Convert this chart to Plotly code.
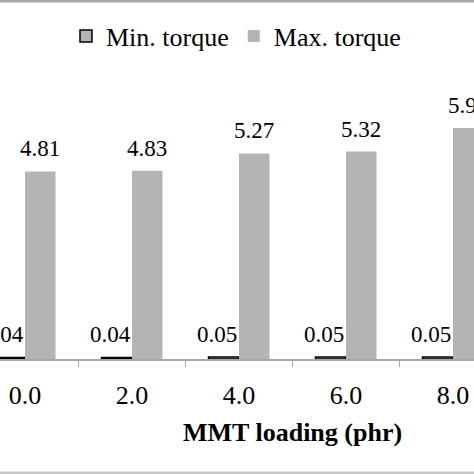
import plotly.graph_objects as go

categories = ["0.0", "2.0", "4.0", "6.0", "8.0"]
min_torque = [0.04, 0.04, 0.05, 0.05, 0.05]
max_torque = [4.81, 4.83, 5.27, 5.32, 5.92]
min_labels = ["0.04", "0.04", "0.05", "0.05", "0.05"]
max_labels = ["4.81", "4.83", "5.27", "5.32", "5.92"]

FONT = "Liberation Serif, DejaVu Serif, serif"
GRAY = "#b4b4b4"
AXIS_GRAY = "#a6a6a6"

fig = go.Figure()
fig.add_trace(go.Bar(
    x=categories, y=min_torque, name="Min. torque",
    marker=dict(color=GRAY, line=dict(color="black", width=1.5)),
))
fig.add_trace(go.Bar(
    x=categories, y=max_torque, name="Max. torque",
    marker=dict(color=GRAY, line=dict(width=0)),
))

annotations = []
for i, (v, t) in enumerate(zip(min_torque, min_labels)):
    annotations.append(dict(x=i, y=v, text=t, showarrow=False, xref="x", yref="y",
                            yanchor="bottom", xshift=-22, yshift=8,
                            font=dict(family=FONT, size=23, color="black")))
for i, (v, t) in enumerate(zip(max_torque, max_labels)):
    annotations.append(dict(x=i, y=v, text=t, showarrow=False, xref="x", yref="y",
                            yanchor="bottom", xshift=15, yshift=8,
                            font=dict(family=FONT, size=23, color="black")))
annotations.append(dict(x=292 / 474, y=(359 - 432) / 299, xref="paper", yref="paper",
                        text="<b>MMT loading (phr)</b>", showarrow=False,
                        xanchor="center", yanchor="middle",
                        font=dict(family=FONT, size=26, color="black")))

fig.update_layout(
    width=474, height=474,
    margin=dict(l=0, r=0, t=60, b=115),
    paper_bgcolor="white", plot_bgcolor="white",
    font=dict(family=FONT),
    barmode="group", bargap=0.43, bargroupgap=0,
    showlegend=True,
    legend=dict(orientation="h", x=236 / 474, xanchor="center",
                y=(359 - 36) / 299, yanchor="middle",
                font=dict(family=FONT, size=26, color="black"),
                bgcolor="rgba(0,0,0,0)"),
    annotations=annotations,
    xaxis=dict(type="category", range=[-25 / 107, 449 / 107],
               showline=True, linecolor=AXIS_GRAY, linewidth=1.5,
               ticks="outside", tickson="boundaries", ticklen=6,
               tickcolor=AXIS_GRAY, tickwidth=1, ticklabelstandoff=12,
               showgrid=False, zeroline=False,
               tickfont=dict(family=FONT, size=26, color="black")),
    yaxis=dict(range=[0, 299 / 39.0], visible=False, showgrid=False, zeroline=False),
    shapes=[
        dict(type="line", xref="paper", yref="paper", x0=0, x1=1,
             y0=(359 - 1) / 299, y1=(359 - 1) / 299,
             line=dict(color=AXIS_GRAY, width=3)),
        dict(type="line", xref="paper", yref="paper", x0=0, x1=1,
             y0=(359 - 473) / 299, y1=(359 - 473) / 299,
             line=dict(color="#c8c8c8", width=3)),
    ],
)

fig.write_html("out.html")
